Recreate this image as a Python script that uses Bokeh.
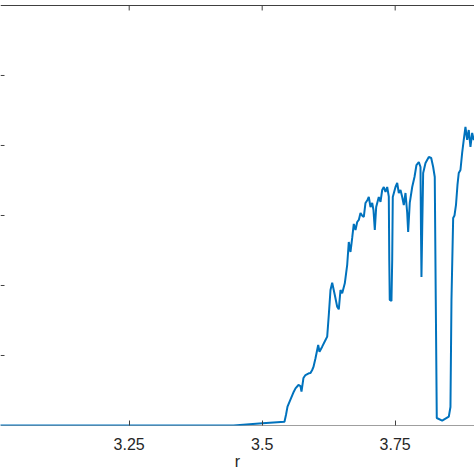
from bokeh.plotting import figure
from bokeh.models import Range1d, FixedTicker, ColumnDataSource
from bokeh.embed import file_html
from bokeh.resources import INLINE

# ---- data ----
r_vals = [3.0000, 3.4461, 3.5006, 3.5419, 3.5447, 3.5476, 3.5594, 3.5626, 3.5682, 3.5720,
          3.5739, 3.5776, 3.5814, 3.5876, 3.5908, 3.5940, 3.5964, 3.6002, 3.6053, 3.6077,
          3.6128, 3.6190, 3.6222, 3.6252, 3.6284, 3.6316, 3.6365, 3.6410, 3.6440, 3.6472,
          3.6504, 3.6553, 3.6598, 3.6628, 3.6660, 3.6692, 3.6722, 3.6754, 3.6786, 3.6816,
          3.6848, 3.6885, 3.6910, 3.6942, 3.6979, 3.7004, 3.7036, 3.7068, 3.7092, 3.7117,
          3.7143, 3.7192, 3.7224, 3.7256, 3.7286, 3.7318, 3.7350, 3.7380, 3.7389, 3.7398,
          3.7430, 3.7444, 3.7455, 3.7506, 3.7538, 3.7568, 3.7600, 3.7632, 3.7662, 3.7694,
          3.7726, 3.7744, 3.7774, 3.7820, 3.7863, 3.7900, 3.7944, 3.7976, 3.7985, 3.7994,
          3.8008, 3.8026, 3.8070, 3.8132, 3.8177, 3.8214, 3.8244, 3.8263, 3.8282, 3.8383,
          3.8508, 3.8539, 3.8558, 3.8590, 3.8615, 3.8643, 3.8671, 3.8695, 3.8727, 3.8759,
          3.8789, 3.8821, 3.8853, 3.8883, 3.8915, 3.8947, 3.8977, 3.9028, 3.9100]
measure = [0.0000, 0.0000, 0.0031, 0.0054, 0.0150, 0.0269, 0.0483, 0.0531, 0.0579, 0.0564,
           0.0483, 0.0679, 0.0721, 0.0746, 0.0750, 0.0793, 0.0836, 0.0960, 0.1150, 0.1054,
           0.1126, 0.1221, 0.1269, 0.1579, 0.1936, 0.2040, 0.1864, 0.1697, 0.1660, 0.1936,
           0.1889, 0.2031, 0.2293, 0.2621, 0.2479, 0.2679, 0.2879, 0.2793, 0.2907, 0.2936,
           0.3036, 0.2993, 0.2979, 0.3179, 0.3221, 0.3264, 0.3121, 0.3179, 0.3079, 0.2793,
           0.3121, 0.3264, 0.3193, 0.3364, 0.3407, 0.3336, 0.3407, 0.3269, 0.2364, 0.1793,
           0.1779, 0.2364, 0.3264, 0.3407, 0.3464, 0.3321, 0.3364, 0.3264, 0.3150, 0.3321,
           0.3036, 0.2764, 0.3179, 0.3407, 0.3550, 0.3721, 0.3764, 0.3693, 0.2793, 0.2121,
           0.2793, 0.3607, 0.3750, 0.3836, 0.3821, 0.3693, 0.3550, 0.1793, 0.0107, 0.0069,
           0.0126, 0.0264, 0.1793, 0.2964, 0.3000, 0.3150, 0.3436, 0.3607, 0.3650, 0.3893,
           0.4079, 0.4264, 0.4079, 0.4221, 0.3979, 0.4179, 0.4079, 0.4143, 0.4100]
x_ticks = [3.25, 3.5, 3.75]
x_tick_labels = {3.25: "3.25", 3.5: "3.5", 3.75: "3.75"}
y_ticks = [0.1, 0.2, 0.3, 0.4, 0.5]
y_top = 0.6
x_label = "r"

source = ColumnDataSource(data=dict(r=r_vals, m=measure))

AX = "#404040"
FONT = "Liberation Sans"
X0, X1 = 3.0081, 3.8991
PX_X = (X1 - X0) / 474.0      # data units per screen pixel (x)
Y1 = 0.6071
PX_Y = Y1 / 425.0             # data units per screen pixel (y)

p = figure(width=474, height=474, output_backend="svg", toolbar_location=None,
           x_range=Range1d(X0, X1), y_range=Range1d(0.0, Y1),
           x_axis_location="below", y_axis_location=None,
           min_border_left=0, min_border_right=0, min_border_top=0, min_border_bottom=49)
p.outline_line_color = None
p.grid.visible = False
p.background_fill_color = "white"
p.border_fill_color = "white"

# box lines (bottom and top) drawn beneath the data line
p.hspan(y=[0.0, y_top], line_color=AX, line_width=1)
# inward ticks on the top edge and the left edge
p.segment(x0=x_ticks, x1=x_ticks, y0=[y_top] * len(x_ticks),
          y1=[y_top - 5 * PX_Y] * len(x_ticks), line_color=AX, line_width=1)
p.segment(x0=[X0] * len(y_ticks), x1=[X0 + 4 * PX_X] * len(y_ticks),
          y0=y_ticks, y1=y_ticks, line_color=AX, line_width=1)

p.line("r", "m", source=source, line_color="#0072BD", line_width=2)

# bottom axis
xa = p.xaxis[0]
xa.ticker = FixedTicker(ticks=x_ticks)
xa.major_label_overrides = x_tick_labels
xa.major_tick_in = 5
xa.major_tick_out = 0
xa.minor_tick_in = 0
xa.minor_tick_out = 0
xa.axis_line_color = None
xa.major_tick_line_color = AX
xa.major_label_text_font = FONT
xa.major_label_text_font_size = "16px"
xa.major_label_text_color = "#262626"
xa.major_label_standoff = 12
xa.axis_label = x_label
xa.axis_label_text_font = FONT
xa.axis_label_text_font_size = "16px"
xa.axis_label_text_font_style = "normal"
xa.axis_label_text_color = "#262626"
xa.axis_label_standoff = 0

open("out.html", "w").write(file_html(p, INLINE))
